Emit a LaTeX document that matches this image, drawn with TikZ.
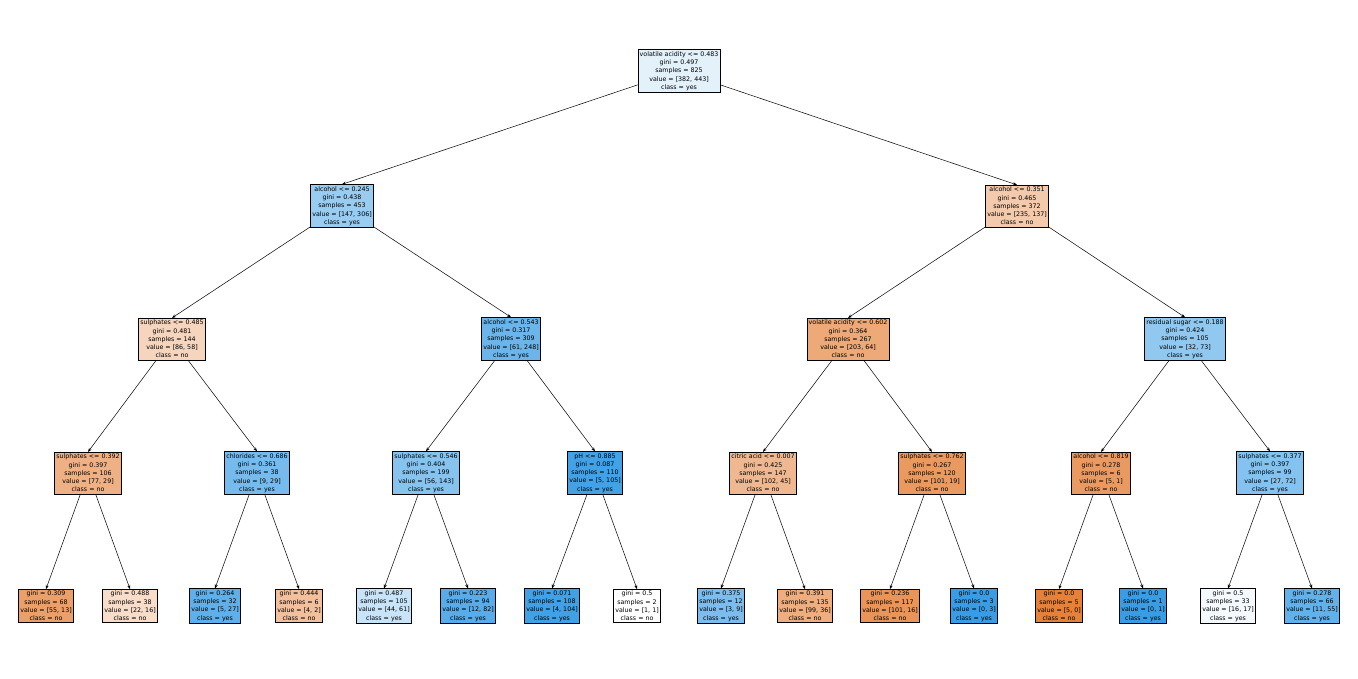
\documentclass[tikz,border=0pt]{standalone}
\usepackage{fontspec}
\setmainfont{DejaVu Sans}
\usetikzlibrary{arrows.meta}
\definecolor{orn}{HTML}{E58139}
\definecolor{blu}{HTML}{399DE5}
\tikzset{tn/.style={draw=black,line width=0.5pt,align=center,inner sep=1.8pt,font=\fontsize{6.3}{8.3}\selectfont},
 ed/.style={-{Stealth[length=4pt,width=3pt]},line width=0.5pt}}
\newcommand{\tn}[5]{\node[tn,fill=#4] (#1) at (#2,#3) {#5};}
\begin{document}
\begin{tikzpicture}[x=1pt,y=-1pt]
\useasboundingbox[fill=white] (0,0) rectangle (1358,679);
\tn{r}{679}{71}{blu!14!white}{volatile acidity <= 0.483\\gini = 0.497\\samples = 825\\value = [382, 443]\\class = yes}
\tn{a}{342}{206}{blu!52!white}{alcohol <= 0.245\\gini = 0.438\\samples = 453\\value = [147, 306]\\class = yes}
\tn{b}{1017}{206}{orn!42!white}{alcohol <= 0.351\\gini = 0.465\\samples = 372\\value = [235, 137]\\class = no}
\tn{aa}{172}{339}{orn!33!white}{sulphates <= 0.485\\gini = 0.481\\samples = 144\\value = [86, 58]\\class = no}
\tn{ab}{511}{339}{blu!75!white}{alcohol <= 0.543\\gini = 0.317\\samples = 309\\value = [61, 248]\\class = yes}
\tn{ba}{848}{339}{orn!68!white}{volatile acidity <= 0.602\\gini = 0.364\\samples = 267\\value = [203, 64]\\class = no}
\tn{bb}{1185}{339}{blu!56!white}{residual sugar <= 0.188\\gini = 0.424\\samples = 105\\value = [32, 73]\\class = yes}
\tn{c1}{88}{473}{orn!62!white}{sulphates <= 0.392\\gini = 0.397\\samples = 106\\value = [77, 29]\\class = no}
\tn{c2}{257}{473}{blu!69!white}{chlorides <= 0.686\\gini = 0.361\\samples = 38\\value = [9, 29]\\class = yes}
\tn{c3}{426}{473}{blu!61!white}{sulphates <= 0.546\\gini = 0.404\\samples = 199\\value = [56, 143]\\class = yes}
\tn{c4}{595}{473}{blu!95!white}{pH <= 0.885\\gini = 0.087\\samples = 110\\value = [5, 105]\\class = yes}
\tn{c5}{763}{473}{orn!56!white}{citric acid <= 0.007\\gini = 0.425\\samples = 147\\value = [102, 45]\\class = no}
\tn{c6}{932}{473}{orn!81!white}{sulphates <= 0.762\\gini = 0.267\\samples = 120\\value = [101, 19]\\class = no}
\tn{c7}{1101}{473}{orn!80!white}{alcohol <= 0.819\\gini = 0.278\\samples = 6\\value = [5, 1]\\class = no}
\tn{c8}{1270}{473}{blu!62!white}{sulphates <= 0.377\\gini = 0.397\\samples = 99\\value = [27, 72]\\class = yes}
\tn{d1}{46}{606}{orn!76!white}{gini = 0.309\\samples = 68\\value = [55, 13]\\class = no}
\tn{d2}{130}{606}{orn!27!white}{gini = 0.488\\samples = 38\\value = [22, 16]\\class = no}
\tn{d3}{215}{606}{blu!81!white}{gini = 0.264\\samples = 32\\value = [5, 27]\\class = yes}
\tn{d4}{299}{606}{orn!50!white}{gini = 0.444\\samples = 6\\value = [4, 2]\\class = no}
\tn{d5}{384}{606}{blu!28!white}{gini = 0.487\\samples = 105\\value = [44, 61]\\class = yes}
\tn{d6}{468}{606}{blu!85!white}{gini = 0.223\\samples = 94\\value = [12, 82]\\class = yes}
\tn{d7}{552}{606}{blu!96!white}{gini = 0.071\\samples = 108\\value = [4, 104]\\class = yes}
\tn{d8}{637}{606}{white}{gini = 0.5\\samples = 2\\value = [1, 1]\\class = no}
\tn{d9}{721}{606}{blu!67!white}{gini = 0.375\\samples = 12\\value = [3, 9]\\class = yes}
\tn{d10}{805}{606}{orn!64!white}{gini = 0.391\\samples = 135\\value = [99, 36]\\class = no}
\tn{d11}{890}{606}{orn!84!white}{gini = 0.236\\samples = 117\\value = [101, 16]\\class = no}
\tn{d12}{974}{606}{blu}{gini = 0.0\\samples = 3\\value = [0, 3]\\class = yes}
\tn{d13}{1059}{606}{orn}{gini = 0.0\\samples = 5\\value = [5, 0]\\class = no}
\tn{d14}{1143}{606}{blu}{gini = 0.0\\samples = 1\\value = [0, 1]\\class = yes}
\tn{d15}{1228}{606}{blu!6!white}{gini = 0.5\\samples = 33\\value = [16, 17]\\class = yes}
\tn{d16}{1312}{606}{blu!80!white}{gini = 0.278\\samples = 66\\value = [11, 55]\\class = yes}
\foreach \p/\c in {r/a,r/b,a/aa,a/ab,b/ba,b/bb,aa/c1,aa/c2,ab/c3,ab/c4,ba/c5,ba/c6,bb/c7,bb/c8,c1/d1,c1/d2,c2/d3,c2/d4,c3/d5,c3/d6,c4/d7,c4/d8,c5/d9,c5/d10,c6/d11,c6/d12,c7/d13,c7/d14,c8/d15,c8/d16}
  \draw[ed] (\p) -- (\c.north);
\end{tikzpicture}
\end{document}
